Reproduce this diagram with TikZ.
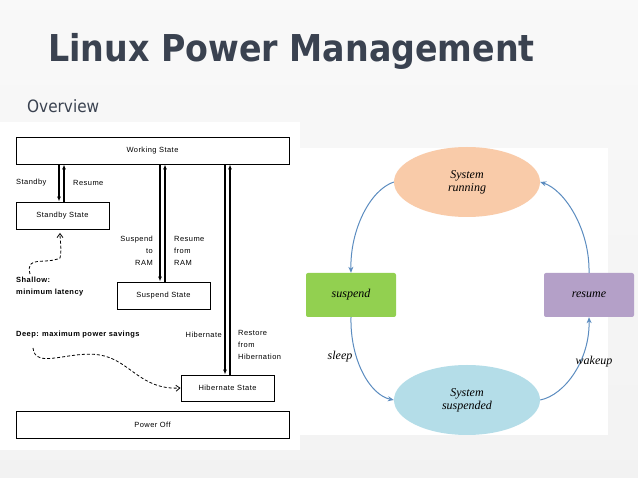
\documentclass[tikz,border=0pt]{standalone}
\usepackage{fontspec}
\setmainfont{Liberation Serif}
\newfontfamily\ds{DejaVu Sans}
\newfontfamily\dsc{DejaVu Sans Condensed}
\newfontfamily\ls{Liberation Sans}[LetterSpace=6]
\usetikzlibrary{shapes.geometric,arrows.meta}
\definecolor{titlec}{HTML}{3A4250}
\definecolor{bluea}{HTML}{5B8CC0}
\begin{document}
\begin{tikzpicture}[x=1pt,y=-1pt,
  box/.style={draw,line width=0.9pt,font=\ls\fontsize{7.5}{8}\selectfont,inner sep=0pt},
  lbl/.style={font=\ls\fontsize{7.5}{12}\selectfont,inner sep=0pt,align=left},
  arr/.style={line width=1.2pt,-{Latex[length=5pt,width=4pt]}},
  dsh/.style={densely dashed,line width=0.8pt,-{Straight Barb[length=4pt,width=6pt]}},
  st/.style={ellipse,minimum width=146pt,minimum height=70pt,font=\itshape\fontsize{12}{13}\selectfont,align=center,inner sep=0pt},
  rb/.style={minimum width=90pt,minimum height=44pt,font=\itshape\fontsize{12}{13}\selectfont,rounded corners=2pt},
  ba/.style={bluea,line width=1pt,-{Stealth[length=6pt,width=5pt]}}]
\useasboundingbox (0,0) rectangle (638,478);
\shade[top color=white!95!gray,bottom color=white!90!gray] (0,0) rectangle (638,478);
\node[anchor=west,inner sep=0pt,font=\dsc\bfseries\fontsize{37}{40}\selectfont,text=titlec] (title) at (48,51) {Linux Power Management};
\node[anchor=west,inner sep=0pt,font=\dsc\fontsize{17}{18}\selectfont,text=titlec] (ov) at (27,106) {Overview};
% left panel
\fill[white] (0,122) rectangle (300,450);
\node[box,minimum width=273pt,minimum height=27pt] (ws) at (152.5,150.5) {Working State};
\node[box,minimum width=93pt,minimum height=27pt] (sb) at (62.5,215.5) {Standby State};
\node[box,minimum width=93pt,minimum height=27pt] (ss) at (163.5,295.5) {Suspend State};
\node[box,minimum width=93pt,minimum height=26pt] (hs) at (227.5,388) {Hibernate State};
\node[box,minimum width=273pt,minimum height=27pt] (po) at (152.5,424.5) {Power Off};
\draw[arr] (ws.south -| 59,0) -- (sb.north -| 59,0);
\draw[arr] (sb.north -| 64,0) -- (ws.south -| 64,0);
\draw[arr] (ws.south -| 160,0) -- (ss.north -| 160,0);
\draw[arr] (ss.north -| 165,0) -- (ws.south -| 165,0);
\draw[arr] (ws.south -| 225,0) -- (hs.north -| 225,0);
\draw[arr] (hs.north -| 230,0) -- (ws.south -| 230,0);
\node[lbl,anchor=west] (l1) at (16,183) {Standby};
\node[lbl,anchor=west] (l2) at (73,183) {Resume};
\node[lbl,anchor=north east,align=right] (l3) at (153,236) {Suspend\\to\\RAM};
\node[lbl,anchor=north west] (l4) at (174,236) {Resume\\from\\RAM};
\node[lbl,anchor=north west,font=\ls\bfseries\fontsize{7.5}{12}\selectfont] (l5) at (16,277) {Shallow:\\minimum latency};
\node[lbl,anchor=west,font=\ls\bfseries\fontsize{7.5}{12}\selectfont] (l6) at (16,335) {Deep: maximum power savings};
\node[lbl,anchor=east] (l7) at (222,335) {Hibernate};
\node[lbl,anchor=north west] (l8) at (238,330) {Restore\\from\\Hibernation};
\coordinate (d1) at (30,274);
\coordinate (d2) at (33,348);
\draw[dsh] (d1) .. controls (25,255) and (45,265) .. (60,258) .. controls (62,250) and (60,240) .. (60,233);
\draw[dsh] (d2) .. controls (35,370) and (70,350) .. (100,355) .. controls (130,360) and (140,390) .. (hs.west);
% right panel
\fill[white] (300,148) rectangle (608,435);
\node[st,fill={rgb,255:red,249;green,203;blue,169}] (run) at (467,182) {System\\running};
\node[st,fill={rgb,255:red,180;green,221;blue,232}] (sus) at (467,400) {System\\suspended};
\node[rb,fill={rgb,255:red,146;green,208;blue,80}] (sp) at (351,295) {suspend};
\node[rb,fill={rgb,255:red,180;green,160;blue,200}] (rs) at (589,295) {resume};
\draw[ba] (run.west) .. controls (370,190) and (350,230) .. (sp.north);
\draw[ba] (sp.south) .. controls (350,360) and (370,395) .. (sus.west);
\draw[ba] (sus.east) .. controls (565,395) and (590,360) .. (rs.south);
\draw[ba] (rs.north) .. controls (590,230) and (565,190) .. (run.east);
\node[font=\itshape\fontsize{12}{13}\selectfont] (sl) at (340,357) {sleep};
\node[font=\itshape\fontsize{12}{13}\selectfont] (wk) at (594,362) {wakeup};
\end{tikzpicture}
\end{document}
